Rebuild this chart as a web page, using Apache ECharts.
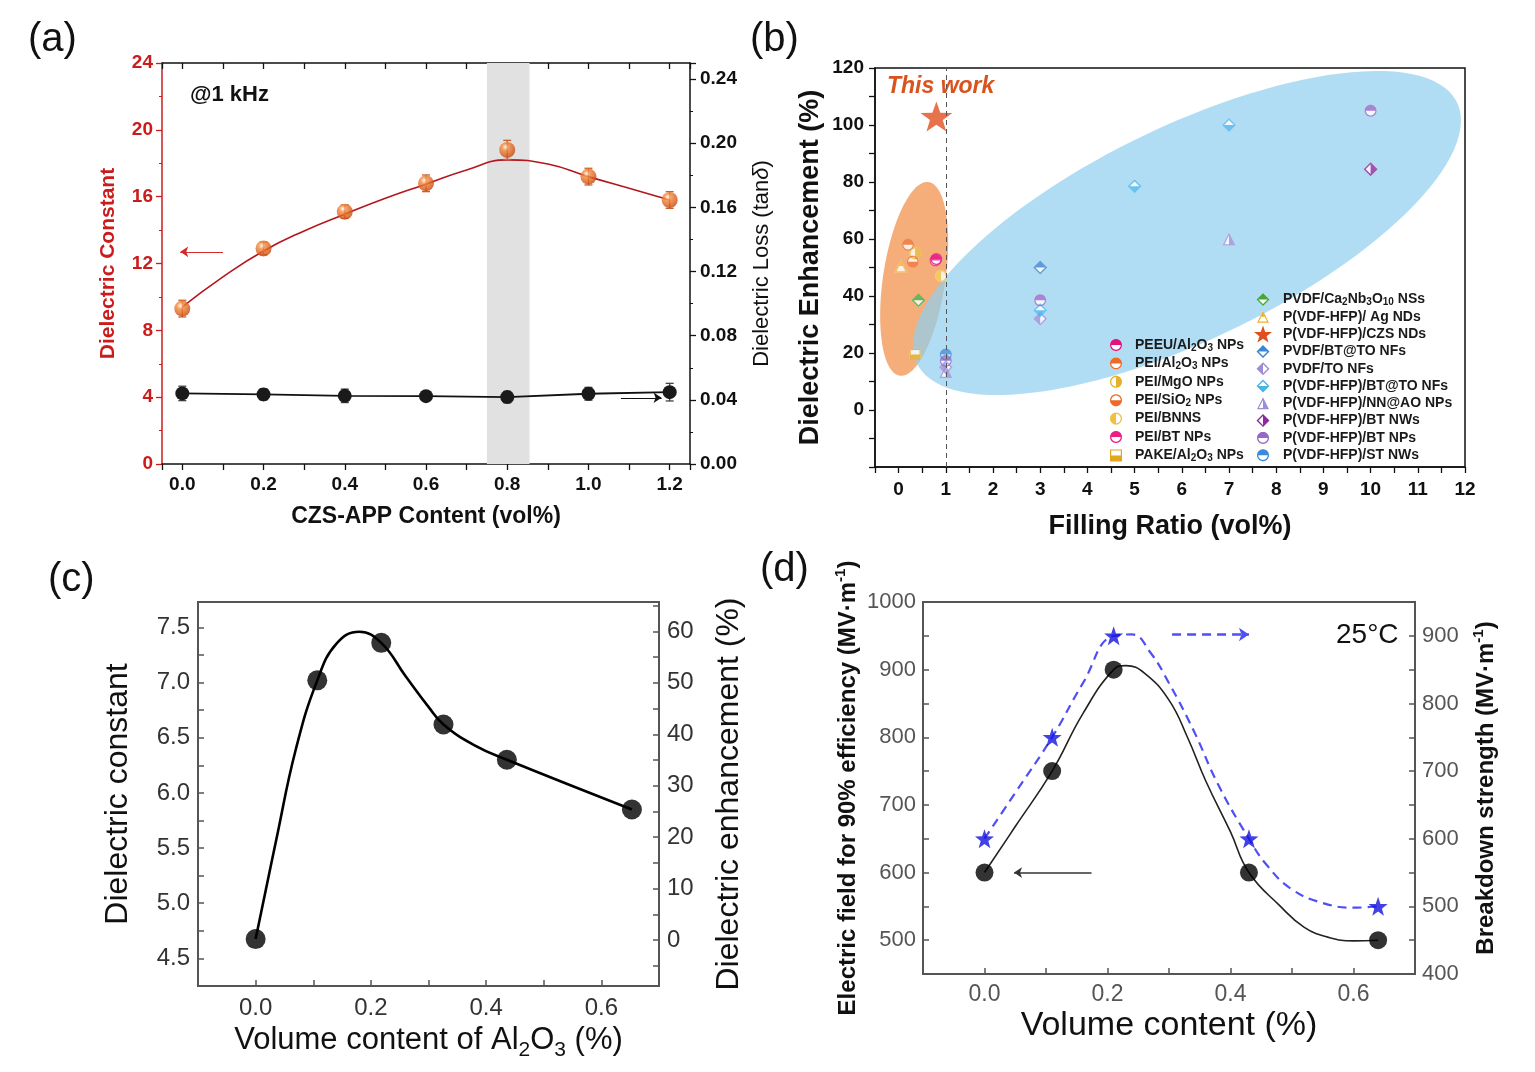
<!DOCTYPE html>
<html><head><meta charset="utf-8">
<script src="https://cdn.jsdelivr.net/npm/echarts@6/dist/echarts.min.js"></script>
<style>html,body{margin:0;padding:0;background:#fff}#chart{width:1535px;height:1072px}</style>
</head><body><div id="chart"></div>
<script>
// ================= DATA =================
// Panel (a)
const aX = [0.0, 0.2, 0.4, 0.6, 0.8, 1.0, 1.2];
const aConst = [9.3, 12.9, 15.1, 16.8, 18.8, 17.2, 15.8];
const aConstErr = [0.5, 0.38, 0.4, 0.5, 0.57, 0.5, 0.5];
const aLoss = [0.044, 0.0434, 0.0425, 0.0423, 0.0417, 0.0438, 0.0448];
const aLossErr = [0.0045, 0.0035, 0.0042, 0.002, 0.0035, 0.004, 0.0055];
const aFitX = [0, 0.1, 0.2, 0.3, 0.4, 0.5, 0.6, 0.7, 0.8, 0.9, 1.0, 1.1, 1.2];
const aFitY = [9.4, 11.2, 12.75, 13.95, 14.95, 15.9, 16.75, 17.6, 18.2, 17.95, 17.2, 16.5, 15.8];
const aBand = [0.75, 0.855];
const aArrowConst = [[0.1, 12.7], [-0.005, 12.7]];
const aArrowLoss = [[1.08, 0.0413], [1.18, 0.0413]];
const aXTicks = [0, 0.2, 0.4, 0.6, 0.8, 1.0, 1.2];
const aYLeftTicks = [0, 4, 8, 12, 16, 20, 24];
const aYRightTicks = [0, 0.04, 0.08, 0.12, 0.16, 0.20, 0.24];

// Panel (b)
const bNames = ['PEEU/Al2O3 NPs', 'PEI/Al2O3 NPs', 'PEI/MgO NPs', 'PEI/SiO2 NPs', 'PEI/BNNS', 'PEI/BT NPs', 'PAKE/Al2O3 NPs',
  'PVDF/Ca2Nb3O10 NSs', 'P(VDF-HFP)/ Ag NDs', 'P(VDF-HFP)/CZS NDs', 'PVDF/BT@TO NFs', 'PVDF/TO NFs', 'P(VDF-HFP)/BT@TO NFs',
  'P(VDF-HFP)/NN@AO NPs', 'P(VDF-HFP)/BT NWs', 'P(VDF-HFP)/BT NPs', 'P(VDF-HFP)/ST NWs'];
const bLabels = ['PEEU/Al{s|2}O{s|3} NPs', 'PEI/Al{s|2}O{s|3} NPs', 'PEI/MgO NPs', 'PEI/SiO{s|2} NPs', 'PEI/BNNS', 'PEI/BT NPs', 'PAKE/Al{s|2}O{s|3} NPs',
  'PVDF/Ca{s|2}Nb{s|3}O{s|10} NSs', 'P(VDF-HFP)/ Ag NDs', 'P(VDF-HFP)/CZS NDs', 'PVDF/BT@TO NFs', 'PVDF/TO NFs', 'P(VDF-HFP)/BT@TO NFs',
  'P(VDF-HFP)/NN@AO NPs', 'P(VDF-HFP)/BT NWs', 'P(VDF-HFP)/BT NPs', 'P(VDF-HFP)/ST NWs'];
const bPoints = [
  [[0.8, 53]], [[0.2, 58]], [[0.35, 55]], [[0.3, 52]], [[0.9, 47]], [[0.78, 52.5]], [[0.35, 19.5]],
  [[0.42, 38.5]], [[0.05, 50.5]], [[0.8, 103]], [[3, 50]], [[3, 32], [1, 15]], [[3, 35], [5, 78.5], [7, 100]],
  [[1, 13.5], [7, 60]], [[10, 84.5]], [[1, 17.3], [3, 38.5], [10, 105]], [[1, 19.5]]
];
const bXTicks = [0, 1, 2, 3, 4, 5, 6, 7, 8, 9, 10, 11, 12];
const bYTicks = [0, 20, 40, 60, 80, 100, 120];
const bEllipseOrange = [[0.33, 46], [0.62, 80], [0.99, 45.2]];   // centre, major tip, minor tip
const bEllipseBlue = [[6.11, 62.1], [11.66, 111.8], [7.81, 34.5]];
const bDashX = 1;

// Panel (c)
const cX = [0, 0.107, 0.218, 0.326, 0.436, 0.653];
const cY = [4.675, 7.02, 7.36, 6.62, 6.30, 5.85];
const cCurveX = [0, 0.036, 0.07, 0.107, 0.14, 0.18, 0.218, 0.26, 0.3, 0.326, 0.38, 0.436, 0.653];
const cCurveY = [4.675, 5.58, 6.4, 7.02, 7.35, 7.46, 7.36, 7.06, 6.78, 6.62, 6.43, 6.30, 5.85];
const cXTicks = [0, 0.2, 0.4, 0.6];
const cYLeftTicks = [4.5, 5.0, 5.5, 6.0, 6.5, 7.0, 7.5];
const cYRightTicks = [0, 10, 20, 30, 40, 50, 60];

// Panel (d)
const dX = [0, 0.11, 0.21, 0.43, 0.64];
const dField = [600, 750, 900, 600, 500];
const dBreak = [600, 750, 900, 600, 500];
const dFieldCurveX = [0, 0.05, 0.11, 0.16, 0.21, 0.23, 0.26, 0.3, 0.33, 0.36, 0.4, 0.43, 0.48, 0.52, 0.56, 0.6, 0.64];
const dFieldCurveY = [600, 668, 750, 835, 900, 906, 895, 855, 800, 735, 660, 600, 551, 519, 504, 499, 500];
const dBreakCurveX = [0, 0.05, 0.11, 0.16, 0.21, 0.24, 0.27, 0.3, 0.34, 0.38, 0.43, 0.46, 0.5, 0.55, 0.6, 0.64];
const dBreakCurveY = [600, 668, 750, 830, 900, 902, 875, 830, 760, 680, 600, 560, 525, 505, 498, 500];
const dArrowField = [[0.174, 600], [0.048, 600]];
const dArrowBreak = [[0.305, 902], [0.43, 902]];
const dXTicks = [0, 0.2, 0.4, 0.6];
const dYLeftTicks = [500, 600, 700, 800, 900, 1000];
const dYRightTicks = [400, 500, 600, 700, 800, 900];

// ================= HELPERS =================
const FONT = "'Liberation Sans', Arial, Helvetica, sans-serif";
function isTick(v, list) { return list.some(t => Math.abs(t - v) < 1e-6); }
function fmt(list, d) { return v => isTick(v, list) ? v.toFixed(d) : ''; }
function zip(xs, ys) { return xs.map((x, i) => [x, ys[i]]); }

function pathStr(pts) { return 'M' + pts.map(p => p[0].toFixed(2) + ' ' + p[1].toFixed(2)).join(' L') + ' Z'; }
function arcPts(r, a0, a1, n) { const p = []; for (let i = 0; i <= n; i++) { const t = a0 + (a1 - a0) * i / n; p.push([50 + r * Math.cos(t), 50 + r * Math.sin(t)]); } return p; }
const OUTLINE = {
  circle: arcPts(50, 0, 2 * Math.PI, 48).slice(0, -1),
  diamond: [[50, 0], [100, 50], [50, 100], [0, 50]],
  triangle: [[50, 0], [100, 100], [0, 100]],
  square: [[0, 0], [100, 0], [100, 100], [0, 100]]
};
const CENTRE = { circle: [50, 50, 0.78], diamond: [50, 50, 0.7], triangle: [50, 69.1, 0.68], square: [50, 50, 0.8] };
const HALF = {
  circle: { top: arcPts(50, Math.PI, 2 * Math.PI, 24), bottom: arcPts(50, 0, Math.PI, 24), left: arcPts(50, Math.PI / 2, 1.5 * Math.PI, 24), right: arcPts(50, -Math.PI / 2, Math.PI / 2, 24) },
  diamond: { top: [[0, 50], [50, 0], [100, 50]], bottom: [[100, 50], [50, 100], [0, 50]], left: [[50, 100], [0, 50], [50, 0]], right: [[50, 0], [100, 50], [50, 100]] },
  triangle: { top: [[50, 0], [75, 50], [25, 50]], right: [[50, 0], [100, 100], [50, 100]], left: [[50, 0], [50, 100], [0, 100]] },
  square: { bottom: [[0, 50], [100, 50], [100, 100], [0, 100]], top: [[0, 0], [100, 0], [100, 50], [0, 50]] }
};
const STAR = (() => { const p = []; for (let i = 0; i < 10; i++) { const r = i % 2 ? 20 : 50; const t = -Math.PI / 2 + i * Math.PI / 5; p.push([50 + r * Math.cos(t), 50 + r * Math.sin(t)]); } return p; })();
function halfPath(shape, half) {
  if (shape === 'star') return pathStr(STAR);
  const o = OUTLINE[shape], c = CENTRE[shape];
  const inner = o.map(p => [c[0] + (p[0] - c[0]) * c[2], c[1] + (p[1] - c[1]) * c[2]]).reverse();
  return pathStr(o) + ' ' + pathStr(inner) + ' ' + pathStr(HALF[shape][half]);
}
const BASE_SYMBOL = { circle: 'circle', diamond: 'diamond', triangle: 'triangle', square: 'rect' };
const SIZE = { circle: 12, diamond: 14, triangle: 13, square: 11, star: [32, 30] };

const bShapes = ['circle', 'circle', 'circle', 'circle', 'circle', 'circle', 'square', 'diamond', 'triangle', 'star', 'diamond', 'diamond', 'diamond', 'triangle', 'diamond', 'circle', 'circle'];
const bHalves = ['top', 'top', 'right', 'bottom', 'left', 'top', 'bottom', 'top', 'top', 'full', 'top', 'left', 'bottom', 'right', 'right', 'top', 'top'];
const bColors = ['#e6127c', '#ef6a28', '#e6b02a', '#ef6a28', '#efc042', '#ea1f83', '#e2a61c', '#45a63a', '#efb22e', '#e0501f', '#3b86d1', '#9b8dd6', '#4bb3ea', '#9b8dd6', '#8a2b9c', '#9668c6', '#3a8bd8'];

function errSeries(xs, ys, errs, xi, yi, color, cap) {
  return {
    type: 'custom', xAxisIndex: xi, yAxisIndex: yi, z: 4, silent: true,
    data: xs.map((x, i) => [x, ys[i] - errs[i], ys[i] + errs[i]]), encode: { x: 0, y: [1, 2] },
    renderItem(params, api) {
      const x = api.value(0), lo = api.coord([x, api.value(1)]), hi = api.coord([x, api.value(2)]);
      const st = { stroke: color, lineWidth: 1.3 };
      return { type: 'group', children: [
        { type: 'line', shape: { x1: lo[0], y1: lo[1], x2: hi[0], y2: hi[1] }, style: st },
        { type: 'line', shape: { x1: lo[0] - cap, y1: lo[1], x2: lo[0] + cap, y2: lo[1] }, style: st },
        { type: 'line', shape: { x1: hi[0] - cap, y1: hi[1], x2: hi[0] + cap, y2: hi[1] }, style: st }] };
    }
  };
}
function ellipseSeries(def, color, z) {
  return {
    type: 'custom', xAxisIndex: 2, yAxisIndex: 2, z, silent: true, clip: false, data: [[def[0][0], def[0][1]]],
    renderItem(params, api) {
      const [c, a, b] = def, pts = [];
      for (let i = 0; i < 120; i++) {
        const t = i / 120 * 2 * Math.PI;
        pts.push(api.coord([c[0] + Math.cos(t) * (a[0] - c[0]) + Math.sin(t) * (b[0] - c[0]),
                            c[1] + Math.cos(t) * (a[1] - c[1]) + Math.sin(t) * (b[1] - c[1])]));
      }
      return { type: 'polygon', shape: { points: pts }, style: { fill: color } };
    }
  };
}
function arrowLine(pts, color, width, dash, size) {
  return { silent: true, animation: false, symbol: ['none', 'arrow'], symbolSize: size, label: { show: false },
    lineStyle: { color, width, type: dash || 'solid' }, emphasis: { disabled: true },
    data: [[{ coord: pts[0] }, { coord: pts[1] }]] };
}

// ================= AXES =================
const boldLbl = (size, color) => ({ fontFamily: FONT, fontWeight: 'bold', fontSize: size, color });
const line = (color, width) => ({ show: true, onZero: false, lineStyle: { color, width } });
const xAxis = [
  { gridIndex: 0, type: 'value', min: -0.05, max: 1.25, splitNumber: 13, minInterval: 0.1, maxInterval: 0.1,
    axisLine: line('#111', 1.5), axisTick: { length: 6, lineStyle: { width: 1.3 } }, splitLine: { show: false },
    axisLabel: { ...boldLbl(19, '#111'), margin: 11, formatter: fmt(aXTicks, 1) },
    name: 'CZS-APP Content (vol%)', nameLocation: 'middle', nameGap: 40, nameTextStyle: { ...boldLbl(23, '#111'), lineHeight: 26 } },
  { gridIndex: 0, type: 'value', position: 'top', min: -0.05, max: 1.25, splitNumber: 13, minInterval: 0.1, maxInterval: 0.1,
    axisLine: line('#111', 1.5), axisTick: { inside: true, length: 6, lineStyle: { width: 1.3 } }, axisLabel: { show: false }, splitLine: { show: false } },
  { gridIndex: 1, type: 'value', min: -0.5, max: 12, interval: 0.5,
    axisLine: line('#111', 1.5), axisTick: { length: 6, lineStyle: { width: 1.3 } }, splitLine: { show: false },
    axisLabel: { ...boldLbl(19, '#111'), margin: 13, formatter: fmt(bXTicks, 0) },
    name: 'Filling Ratio (vol%)', nameLocation: 'middle', nameGap: 44, nameTextStyle: { ...boldLbl(27, '#111'), lineHeight: 32 } },
  { gridIndex: 2, type: 'value', min: -0.1, max: 0.7, interval: 0.1,
    axisLine: line('#555', 2), axisTick: { inside: true, length: 6, lineStyle: { width: 1.5 } }, splitLine: { show: false },
    axisLabel: { fontFamily: FONT, fontSize: 24, color: '#333', margin: 10, formatter: fmt(cXTicks, 1) },
    name: 'Volume content of Al{s|2}O{s|3} (%)', nameLocation: 'middle', nameGap: 30,
    nameTextStyle: { fontFamily: FONT, fontSize: 31, color: '#111', lineHeight: 40, rich: { s: { fontFamily: FONT, fontSize: 21, lineHeight: 12, verticalAlign: 'bottom', color: '#111' } } } },
  { gridIndex: 3, type: 'value', min: -0.1, max: 0.7, interval: 0.1,
    axisLine: line('#555', 2), axisTick: { inside: true, length: 6, lineStyle: { width: 1.5 } }, splitLine: { show: false },
    axisLabel: { fontFamily: FONT, fontSize: 23, color: '#555', margin: 9, formatter: fmt(dXTicks, 1) },
    name: 'Volume content (%)', nameLocation: 'middle', nameGap: 30, nameTextStyle: { fontFamily: FONT, fontSize: 34, color: '#111', lineHeight: 38 } }
];
const yAxis = [
  { gridIndex: 0, type: 'value', min: 0, max: 24, interval: 4,
    axisLine: line('#cc1b1b', 1.5), axisTick: { show: true, length: 6, lineStyle: { width: 1.3 } },
    minorTick: { show: true, splitNumber: 2, length: 3, lineStyle: { color: '#cc1b1b' } }, splitLine: { show: false },
    axisLabel: { ...boldLbl(19, '#cc1b1b'), margin: 9, formatter: fmt(aYLeftTicks, 0) },
    name: 'Dielectric Constant', nameLocation: 'middle', nameRotate: 90, nameGap: 42, nameTextStyle: { ...boldLbl(21, '#cc1b1b'), lineHeight: 24 } },
  { gridIndex: 0, type: 'value', position: 'right', min: 0, max: 0.25, interval: 0.04,
    axisLine: line('#111', 1.5), axisTick: { show: true, length: 6, lineStyle: { width: 1.3 } },
    minorTick: { show: true, splitNumber: 2, length: 3 }, splitLine: { show: false },
    axisLabel: { ...boldLbl(19, '#111'), margin: 10, formatter: fmt(aYRightTicks, 2) },
    name: 'Dielectric Loss (tan{i|δ})', nameLocation: 'middle', nameRotate: 90, nameGap: 60,
    nameTextStyle: { fontFamily: FONT, fontSize: 22, color: '#111', lineHeight: 24, rich: { i: { fontFamily: FONT, fontStyle: 'italic', fontSize: 22, color: '#111' } } } },
  { gridIndex: 1, type: 'value', min: -20, max: 120, interval: 10,
    axisLine: line('#111', 1.5), axisTick: { show: true, length: 6, lineStyle: { width: 1.3 } }, splitLine: { show: false },
    axisLabel: { ...boldLbl(19, '#111'), margin: 11, formatter: fmt(bYTicks, 0) },
    name: 'Dielectric Enhancement (%)', nameLocation: 'middle', nameRotate: 90, nameGap: 48, nameTextStyle: { ...boldLbl(27, '#111'), lineHeight: 32 } },
  { gridIndex: 2, type: 'value', min: 4.25, max: 7.73, interval: 0.25,
    axisLine: line('#555', 2), axisTick: { show: true, inside: true, length: 6, lineStyle: { width: 1.5 } }, splitLine: { show: false },
    axisLabel: { fontFamily: FONT, fontSize: 24, color: '#333', margin: 8, formatter: fmt(cYLeftTicks, 1) },
    name: 'Dielectric constant', nameLocation: 'middle', nameRotate: 90, nameGap: 62, nameTextStyle: { fontFamily: FONT, fontSize: 32, color: '#111', lineHeight: 36 } },
  { gridIndex: 2, type: 'value', position: 'right', min: -8.9, max: 65.7, splitNumber: 15, minInterval: 5, maxInterval: 5,
    axisLine: line('#555', 2), axisTick: { show: true, inside: true, length: 6, lineStyle: { width: 1.5 } }, splitLine: { show: false },
    axisLabel: { fontFamily: FONT, fontSize: 24, color: '#333', margin: 8, formatter: fmt(cYRightTicks, 0) },
    name: 'Dielectric enhancement (%)', nameLocation: 'middle', nameRotate: 90, nameGap: 52, nameTextStyle: { fontFamily: FONT, fontSize: 32, color: '#111', lineHeight: 36 } },
  { gridIndex: 3, type: 'value', min: 450, max: 1000, interval: 50,
    axisLine: line('#555', 2), axisTick: { show: true, inside: true, length: 6, lineStyle: { width: 1.5 } }, splitLine: { show: false },
    axisLabel: { fontFamily: FONT, fontSize: 22, color: '#555', margin: 7, formatter: fmt(dYLeftTicks, 0) },
    name: 'Electric field for 90% efficiency (MV·m{p|-1})', nameLocation: 'middle', nameRotate: 90, nameGap: 57,
    nameTextStyle: { ...boldLbl(24, '#111'), lineHeight: 30, rich: { p: { ...boldLbl(15, '#111'), lineHeight: 8, verticalAlign: 'top' } } } },
  { gridIndex: 3, type: 'value', position: 'right', min: 400, max: 950, interval: 50,
    axisLine: line('#555', 2), axisTick: { show: true, inside: true, length: 6, lineStyle: { width: 1.5 } }, splitLine: { show: false },
    axisLabel: { fontFamily: FONT, fontSize: 22, color: '#555', margin: 7, formatter: fmt(dYRightTicks, 0) },
    name: 'Breakdown strength (MV·m{p|-1})', nameLocation: 'middle', nameRotate: 90, nameGap: 56,
    nameTextStyle: { ...boldLbl(24, '#111'), lineHeight: 30, rich: { p: { ...boldLbl(15, '#111'), lineHeight: 8, verticalAlign: 'top' } } } }
];

// ================= SERIES =================
const series = [];
// (a)
series.push({ type: 'line', xAxisIndex: 0, yAxisIndex: 0, data: [], z: 1,
  markArea: { silent: true, itemStyle: { color: '#e1e1e1' }, data: [[{ xAxis: aBand[0] }, { xAxis: aBand[1] }]] } });
series.push({ type: 'line', xAxisIndex: 0, yAxisIndex: 0, data: zip(aFitX, aFitY), smooth: 0.5, showSymbol: false, z: 3,
  lineStyle: { color: '#b5161c', width: 1.6 }, markLine: arrowLine(aArrowConst, '#d42a2a', 1.2, 'solid', 8) });
series.push(errSeries(aX, aConst, aConstErr, 0, 0, '#c8622c', 4));
series.push({ type: 'scatter', xAxisIndex: 0, yAxisIndex: 0, data: zip(aX, aConst), symbolSize: 16, z: 5,
  itemStyle: { color: { type: 'radial', x: 0.38, y: 0.32, r: 0.7, colorStops: [{ offset: 0, color: '#fff6ee' }, { offset: 0.3, color: '#f38a3c' }, { offset: 1, color: '#c8440c' }] } } });
series.push(errSeries(aX, aLoss, aLossErr, 0, 1, '#444', 4));
series.push({ type: 'line', xAxisIndex: 0, yAxisIndex: 1, data: zip(aX, aLoss), symbol: 'circle', symbolSize: 14, z: 5,
  lineStyle: { color: '#111', width: 1.8 }, itemStyle: { color: '#1a1a1a' }, markLine: arrowLine(aArrowLoss, '#111', 1.2, 'solid', 8) });

// (b)
series.push(ellipseSeries(bEllipseOrange, '#f5ae7a', 1));
series.push(ellipseSeries(bEllipseBlue, 'rgba(146,208,239,0.72)', 1));
series.push({ type: 'line', xAxisIndex: 2, yAxisIndex: 2, data: [], z: 2,
  markLine: { silent: true, symbol: 'none', label: { show: false }, lineStyle: { color: '#555', width: 1, type: [5, 4] }, data: [{ xAxis: bDashX }] } });
bNames.forEach((name, i) => {
  const shape = bShapes[i];
  if (shape !== 'star') {
    series.push({ type: 'scatter', name: '_bg' + i, xAxisIndex: 2, yAxisIndex: 2, data: bPoints[i], z: 3, silent: true,
      symbol: BASE_SYMBOL[shape], symbolSize: SIZE[shape], itemStyle: { color: '#ffffff' } });
  }
  series.push({ type: 'scatter', name, xAxisIndex: 2, yAxisIndex: 2, data: bPoints[i], z: 4,
    symbol: 'path://' + halfPath(shape, bHalves[i]), symbolSize: SIZE[shape], itemStyle: { color: bColors[i] } });
});
// legend of (b): symbol + text, one custom item per entry
series.push({
  type: 'custom', coordinateSystem: 'none', z: 10, silent: true, data: bNames.map((n, i) => [i]),
  renderItem(params, api) {
    const i = params.dataIndex;
    const col = i < 7 ? 0 : 1, row = col ? i - 7 : i;
    const cx = col ? 1263 : 1116, cy = col ? 299.5 + row * 17.3 : 345 + row * 18.4, tx = col ? 1283 : 1135;
    const shape = bShapes[i];
    const w = shape === 'star' ? 18 : (shape === 'diamond' ? 13 : 12), h = shape === 'star' ? 17 : (shape === 'diamond' ? 13 : 12);
    const children = [];
    if (shape !== 'star') children.push({ type: 'path', shape: { pathData: pathStr(OUTLINE[shape]), x: cx - w / 2, y: cy - h / 2, width: w, height: h, layout: 'cover' }, style: { fill: '#fff' } });
    children.push({ type: 'path', shape: { pathData: halfPath(shape, bHalves[i]), x: cx - w / 2, y: cy - h / 2, width: w, height: h, layout: 'cover' }, style: { fill: bColors[i] } });
    children.push({ type: 'text', x: tx, y: cy,
      style: { text: bLabels[i], fontFamily: FONT, fontWeight: 'bold', fontSize: 14, fill: '#1a1a1a', verticalAlign: 'middle', lineHeight: 16,
        rich: { s: { fontFamily: FONT, fontWeight: 'bold', fontSize: 10, lineHeight: 6, verticalAlign: 'bottom', fill: '#1a1a1a' } } } });
    return { type: 'group', children };
  }
});

// (c)
series.push({ type: 'line', xAxisIndex: 3, yAxisIndex: 3, data: zip(cCurveX, cCurveY), smooth: 0.45, showSymbol: false, z: 3,
  lineStyle: { color: '#000', width: 2.6 } });
series.push({ type: 'scatter', xAxisIndex: 3, yAxisIndex: 3, data: zip(cX, cY), symbolSize: 20, z: 4, itemStyle: { color: '#000' } });

// (d)
series.push({ type: 'line', xAxisIndex: 4, yAxisIndex: 5, data: zip(dFieldCurveX, dFieldCurveY), smooth: 0.45, showSymbol: false, z: 3,
  lineStyle: { color: '#222', width: 1.6 }, markLine: arrowLine(dArrowField, '#333', 1.6, 'solid', 8) });
series.push({ type: 'scatter', xAxisIndex: 4, yAxisIndex: 5, data: zip(dX, dField), symbolSize: 18, z: 4, itemStyle: { color: '#000' } });
series.push({ type: 'line', xAxisIndex: 4, yAxisIndex: 6, data: zip(dBreakCurveX, dBreakCurveY), smooth: 0.45, showSymbol: false, z: 3,
  lineStyle: { color: '#4f4ff2', width: 2.2, type: [9, 6] }, markLine: arrowLine(dArrowBreak, '#4f4ff2', 2.6, [9, 6], 10) });
series.push({ type: 'scatter', xAxisIndex: 4, yAxisIndex: 6, data: zip(dX, dBreak), symbol: 'path://' + pathStr(STAR), symbolSize: 19, z: 4, itemStyle: { color: '#1212e0' } });

// ================= OPTION =================
const option = {
  animation: false,
  backgroundColor: '#fff',
  grid: [
    { left: 162, top: 63, width: 528, height: 401 },
    { left: 875, top: 68, width: 590, height: 399, show: true, borderColor: '#111', borderWidth: 1.5, backgroundColor: 'transparent' },
    { left: 198, top: 602, width: 461, height: 384, show: true, borderColor: '#555', borderWidth: 2, backgroundColor: 'transparent' },
    { left: 923, top: 602, width: 492, height: 372, show: true, borderColor: '#555', borderWidth: 2, backgroundColor: 'transparent' }
  ],
  xAxis, yAxis, series,
  graphic: [
    { type: 'text', left: 28, top: 20, style: { text: '(a)', font: '40px ' + FONT, fill: '#111' } },
    { type: 'text', left: 750, top: 20, style: { text: '(b)', font: '40px ' + FONT, fill: '#111' } },
    { type: 'text', left: 48, top: 560, style: { text: '(c)', font: '40px ' + FONT, fill: '#111' } },
    { type: 'text', left: 760, top: 550, style: { text: '(d)', font: '40px ' + FONT, fill: '#111' } },
    { type: 'text', left: 190, top: 84, style: { text: '@1 kHz', font: 'bold 22px ' + FONT, fill: '#111' } },
    { type: 'text', left: 887, top: 75, style: { text: 'This work', font: 'italic bold 23px ' + FONT, fill: '#d9531e' } },
    { type: 'text', left: 1336, top: 621, style: { text: '25°C', font: '28px ' + FONT, fill: '#111' } }
  ]
};
const chart = echarts.init(document.getElementById('chart'), null, { renderer: 'canvas' });
chart.setOption(option);
</script>
</body></html>
